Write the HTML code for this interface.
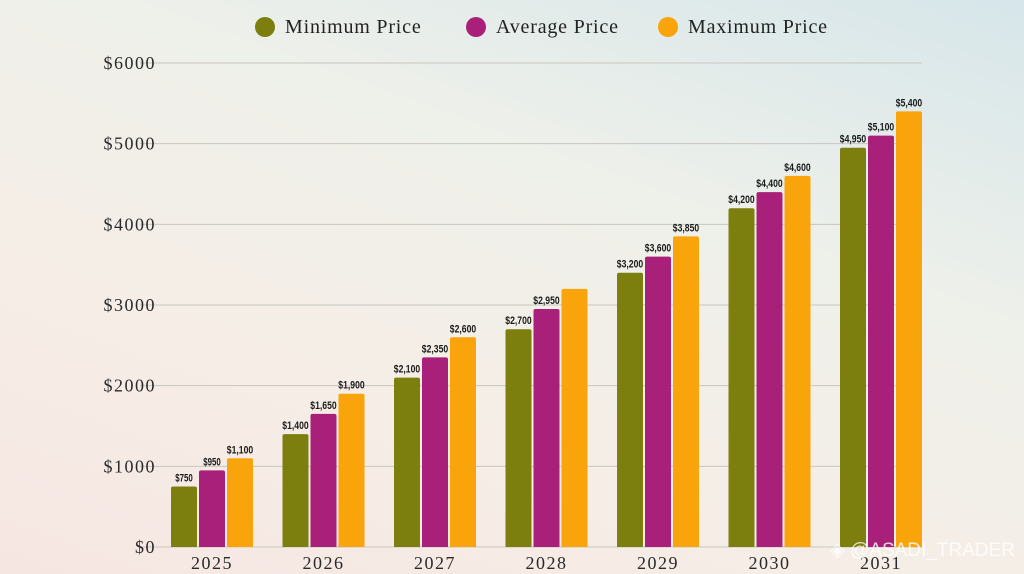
<!DOCTYPE html>
<html><head><meta charset="utf-8">
<style>
html,body{margin:0;padding:0;width:1024px;height:574px;overflow:hidden}
body{background:linear-gradient(200deg,#d6e6ea 0%,#eef0ea 35%,#f6ede6 70%,#f6e6e2 100%);font-family:"Liberation Serif",serif}
</style></head>
<body>
<svg id="chart" width="1024" height="574" xmlns="http://www.w3.org/2000/svg"></svg>
<script>
const years=["2025","2026","2027","2028","2029","2030","2031"];
const minVals=[750,1400,2100,2700,3400,4200,4950];
const avgVals=[950,1650,2350,2950,3600,4400,5100];
const maxVals=[1100,1900,2600,3200,3850,4600,5400];
const minLabels=["$750","$1,400","$2,100","$2,700","$3,200","$4,200","$4,950"];
const avgLabels=["$950","$1,650","$2,350","$2,950","$3,600","$4,400","$5,100"];
const maxLabels=["$1,100","$1,900","$2,600","","$3,850","$4,600","$5,400"];
const yTicks=[0,1000,2000,3000,4000,5000,6000];
const yTickLabels=["$0","$1000","$2000","$3000","$4000","$5000","$6000"];
const svg=document.getElementById('chart');
const NS="http://www.w3.org/2000/svg";
const y0=547,yTop=63,vMax=6000;
function yS(v){return y0-(y0-yTop)*v/vMax;}
function xC(i){return 212+i*111.5;}
function mk(t,a){const e=document.createElementNS(NS,t);for(const k in a)e.setAttribute(k,a[k]);svg.appendChild(e);return e;}
yTicks.forEach((t,i)=>{
 const g=mk('line',{x1:140,x2:922,y1:yS(t),y2:yS(t),stroke:'#c9c6c0','stroke-width':1});
 
 
 const l=mk('text',{x:156,y:yS(t)+6,'text-anchor':'end','font-size':18,'letter-spacing':1.5,fill:'#2a2a2a','font-family':'Liberation Serif, serif'});
 l.textContent=yTickLabels[i];
 
 
});
const series=[[minVals,minLabels,'#7c7f0d',-28,'min'],[avgVals,avgLabels,'#a8207a',0,'avg'],[maxVals,maxLabels,'#f8a40a',28,'max']];
years.forEach((yr,i)=>{
 series.forEach(s=>{
  const v=s[0][i],x=xC(i)+s[3]-13,top=yS(v);
  const r=mk('path',{d:`M${x},${y0} L${x},${top+2} Q${x},${top} ${x+2},${top} L${x+24},${top} Q${x+26},${top} ${x+26},${top+2} L${x+26},${y0} Z`,fill:s[2]});
  
  
  if(s[1][i]){
   const txt=s[1][i];
   const t=mk('text',{x:x+13,y:top-5,'text-anchor':'middle','font-size':11,'font-weight':'bold',fill:'#1a1a1a','font-family':'Liberation Sans, sans-serif',textLength:txt.length*4.4,lengthAdjust:'spacingAndGlyphs'});
   t.textContent=txt;
   
   
  }
 });
 const xl=mk('text',{x:xC(i),y:569,'text-anchor':'middle','font-size':18,'letter-spacing':1.5,fill:'#2a2a2a','font-family':'Liberation Serif, serif'});
 xl.textContent=yr;
 
 
});
const leg=[['Minimum Price','#7c7f0d',265],['Average Price','#a8207a',476],['Maximum Price','#f8a40a',668]];
leg.forEach(l=>{
 const c=mk('circle',{cx:l[2],cy:27,r:10,fill:l[1]});
 
 
 const t=mk('text',{x:l[2]+20,y:33,'font-size':20,'letter-spacing':0.8,fill:'#222','font-family':'Liberation Serif, serif'});
 t.textContent=l[0];
 
 
});
const w=mk('text',{x:1015,y:556,'text-anchor':'end','font-size':19,fill:'#ffffff','fill-opacity':0.8,'font-family':'Liberation Sans, sans-serif'});
w.textContent='◈ @ASADI_TRADER';


</script>
</body></html>
